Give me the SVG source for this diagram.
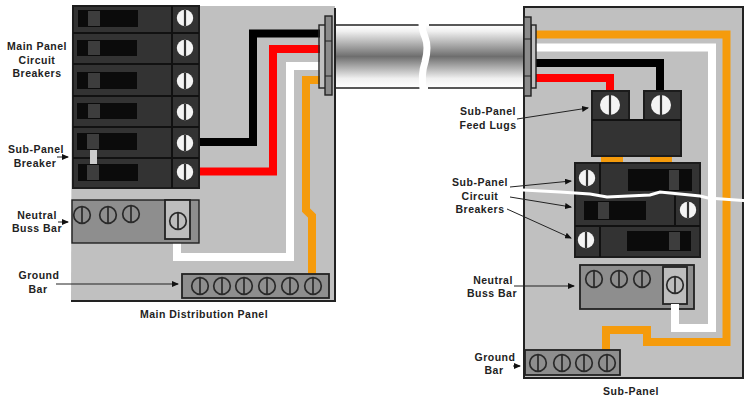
<svg xmlns="http://www.w3.org/2000/svg" width="750" height="401" viewBox="0 0 750 401">
<style>
text{font-family:"Liberation Sans",Arial,sans-serif;font-size:10.5px;font-weight:bold;fill:#222;text-anchor:middle;letter-spacing:.5px}
.brk{fill:#333;stroke:#1c1c1c;stroke-width:2}
.slot{fill:#0b0b0b}
.hdl{fill:#3d3d3d}
.div{stroke:#111;stroke-width:2;fill:none}
.bar{fill:#8e8e8e;stroke:#222;stroke-width:1.8}
.term{fill:#bdbdbd;stroke:#222;stroke-width:1.8}
.ws{fill:#f4f4f4}
.wl{stroke:#333;stroke-width:2.200}
.bs{fill:none;stroke:#2a2a2a;stroke-width:1.7}
.wire{fill:none;stroke-width:8}
.nut{fill:#8b8b8b;stroke:#222;stroke-width:1.4}
.ptr{stroke:#222;stroke-width:1;fill:none;marker-end:url(#a)}
</style>
<defs>
<marker id="a" markerWidth="7" markerHeight="6" refX="6" refY="3" orient="auto" markerUnits="userSpaceOnUse"><path d="M0 0L7 3L0 6Z" fill="#111"/></marker>
<linearGradient id="cond" x1="0" y1="0" x2="0" y2="1"><stop offset="0" stop-color="#fff"/><stop offset=".1" stop-color="#f0f0f0"/><stop offset=".5" stop-color="#6e6e6e"/><stop offset=".85" stop-color="#f0f0f0"/><stop offset="1" stop-color="#fff"/></linearGradient>
<g id="s"><circle r="8.2" class="ws"/><path d="M0-8V8" class="wl"/></g>
<g id="s2"><circle r="10" class="ws"/><path d="M0-10V10" class="wl"/></g>
<g id="b"><circle r="8.3" fill="none" class="bs"/><path d="M0-8V8" class="bs"/></g>
</defs>
<g id="main-panel">
<path d="M72 6H335V301H71Z" fill="#c0c0c0"/>
<path d="M335 8V301H71" fill="none" stroke="#222" stroke-width="2"/>
</g>
<g id="conduit">
<rect x="336" y="25" width="90" height="63" fill="url(#cond)"/>
<rect x="426" y="25" width="98" height="63" fill="url(#cond)"/>
<path d="M336 25H420M429 25H524M336 88H420M428 88H524" stroke="#222" stroke-width="1.4" fill="none"/>
<path d="M422 24Q422 30 425 37Q429 47 425 62Q421 74 423 89" fill="none" stroke="#fff" stroke-width="7"/>
</g>
<g id="sub-panel">
<path d="M524 7H743V378H524Z" fill="#c0c0c0" stroke="#222" stroke-width="2"/>
</g>
<g id="connectors">
<path class="wire" stroke="#000" d="M199 142H253V33.500H320"/>
<path class="wire" stroke="#f00" d="M199 171.500H273V49H320"/>
<path class="wire" stroke="#fff" d="M177 240V257H290V66H320"/>
<path class="wire" stroke="#f59b0c" d="M320 80H306V210L312 216V274"/>
<path class="wire" stroke="#f59b0c" d="M536 34.500H726.500V342H647V330H606V352"/>
<path class="wire" stroke="#fff" d="M536 47.500H712V328H675V303"/>
<path class="wire" stroke="#000" d="M536 63H660V91"/>
<path class="wire" stroke="#f00" d="M536 78H610V91"/>
</g>
<g id="fitting-left">
<rect x="319" y="25" width="7" height="63" fill="none" stroke="#222" stroke-width="1.4"/>
<rect x="325" y="16" width="7" height="79" class="nut"/>
<path d="M325 41H332M325 76H332" stroke="#222" stroke-width="1.2"/>
</g>
<g id="fitting-right">
<rect x="531" y="25" width="5" height="63" fill="none" stroke="#222" stroke-width="1.4"/>
<rect x="524" y="17" width="7" height="79" class="nut"/>
<path d="M524 39H531M524 76H531" stroke="#222" stroke-width="1.2"/>
</g>
<g id="main-breakers">
<rect x="73" y="6" width="126" height="182" class="brk"/>
<path class="div" d="M73 33H199M73 64H199M73 96H199M73 127H199M73 158H199M172 6V188"/>
<path class="slot" d="M78 10h60v17h-60zM77 40h60v16h-60zM77 72h60v17h-60zM77 103h60v16h-60zM77 133h60v17h-60zM78 164h60v17h-60z"/>
<path class="hdl" d="M88 11h12v15h-12zM88 41h12v14h-12zM88 73h12v15h-12zM88 104h12v14h-12zM87 134h12v15h-12zM87 165h12v15h-12z"/>
<rect x="90" y="150" width="7" height="14" fill="#ccc"/>
<use href="#s" x="185" y="18"/><use href="#s" x="185" y="48"/><use href="#s" x="185" y="81"/><use href="#s" x="185" y="112"/><use href="#s" x="185" y="143"/><use href="#s" x="185" y="172"/>
</g>
<g id="main-neutral-bar">
<rect x="72" y="200" width="127" height="43" class="bar" style="stroke-width:1.4"/>
<rect x="165" y="200" width="25" height="39" class="term"/>
<use href="#b" x="82" y="215"/><use href="#b" x="108" y="215"/><use href="#b" x="131" y="214"/><use href="#b" x="178" y="221"/>
</g>
<g id="main-ground-bar">
<rect x="182" y="274" width="147" height="24" class="bar"/>
<use href="#b" x="200" y="286"/><use href="#b" x="222" y="286"/><use href="#b" x="244" y="286"/><use href="#b" x="267" y="286"/><use href="#b" x="290" y="286"/><use href="#b" x="313" y="286"/>
</g>
<g id="feed-lugs">
<path class="brk" d="M592 91H629V120H644V91H681V156H592Z"/>
<path class="div" d="M592 120H681"/>
<use href="#s2" x="610" y="105"/><use href="#s2" x="661" y="105"/>
<path d="M601 157h22v6h-22zM650 157h22v6h-22z" fill="#f59b0c"/>
</g>
<g id="sub-breakers">
<rect x="575" y="163" width="125" height="94" class="brk"/>
<path class="div" d="M575 226H700M600 163V196M600 226V257M675 196V226"/>
<path class="slot" d="M628 169h64v22h-64zM584 201h62v19h-62zM627 231h64v20h-64z"/>
<path class="hdl" d="M669 170h10v20h-10zM598 202h11v17h-11zM669 232h11v18h-11z"/>
<use href="#s" x="587" y="178"/><use href="#s" x="688" y="210"/><use href="#s" x="586" y="240"/>
</g>
<g id="sub-neutral-bar">
<rect x="580" y="265" width="114" height="44" class="bar"/>
<rect x="663" y="267" width="24" height="37" class="term"/>
<use href="#b" x="594" y="279"/><use href="#b" x="619" y="279"/><use href="#b" x="642" y="279"/><use href="#b" x="675" y="285"/>
<path class="wire" stroke="#fff" d="M675 304V312"/>
</g>
<g id="sub-ground-bar">
<rect x="525" y="350" width="95" height="25" class="bar"/>
<use href="#b" x="538" y="363"/><use href="#b" x="562" y="363"/><use href="#b" x="584" y="363"/><use href="#b" x="607" y="363"/>
</g>
<path id="tear" d="M523 190L560 192L590 194L607 197L650 195L660 192L700 196L708 198L750 201" fill="none" stroke="#fff" stroke-width="3.200"/>
<g id="pointers">
<path class="ptr" d="M57 157H68"/>
<path class="ptr" d="M58 222H68"/>
<path class="ptr" d="M56 284H178"/>
<path class="ptr" d="M517 119L588 108"/>
<path class="ptr" d="M510 187L571 181"/>
<path class="ptr" d="M510 197L571 207"/>
<path class="ptr" d="M507 209L571 238"/>
<path class="ptr" d="M514 286H574"/>
<path class="ptr" d="M513 366H520"/>
</g>
<g id="labels">
<text x="37" y="50">Main Panel</text><text x="37" y="64">Circuit</text><text x="37" y="77">Breakers</text>
<text x="36" y="153">Sub-Panel</text><text x="35" y="167">Breaker</text>
<text x="37" y="219">Neutral</text><text x="37" y="232">Buss Bar</text>
<text x="39" y="279">Ground</text><text x="38" y="293">Bar</text>
<text x="204" y="318">Main Distribution Panel</text>
<text x="488" y="115">Sub-Panel</text><text x="488" y="129">Feed Lugs</text>
<text x="480" y="186">Sub-Panel</text><text x="480" y="200">Circuit</text><text x="480" y="213">Breakers</text>
<text x="493" y="284">Neutral</text><text x="492" y="297">Buss Bar</text>
<text x="495" y="361">Ground</text><text x="494" y="374">Bar</text>
<text x="631" y="395">Sub-Panel</text>
</g>
</svg>
